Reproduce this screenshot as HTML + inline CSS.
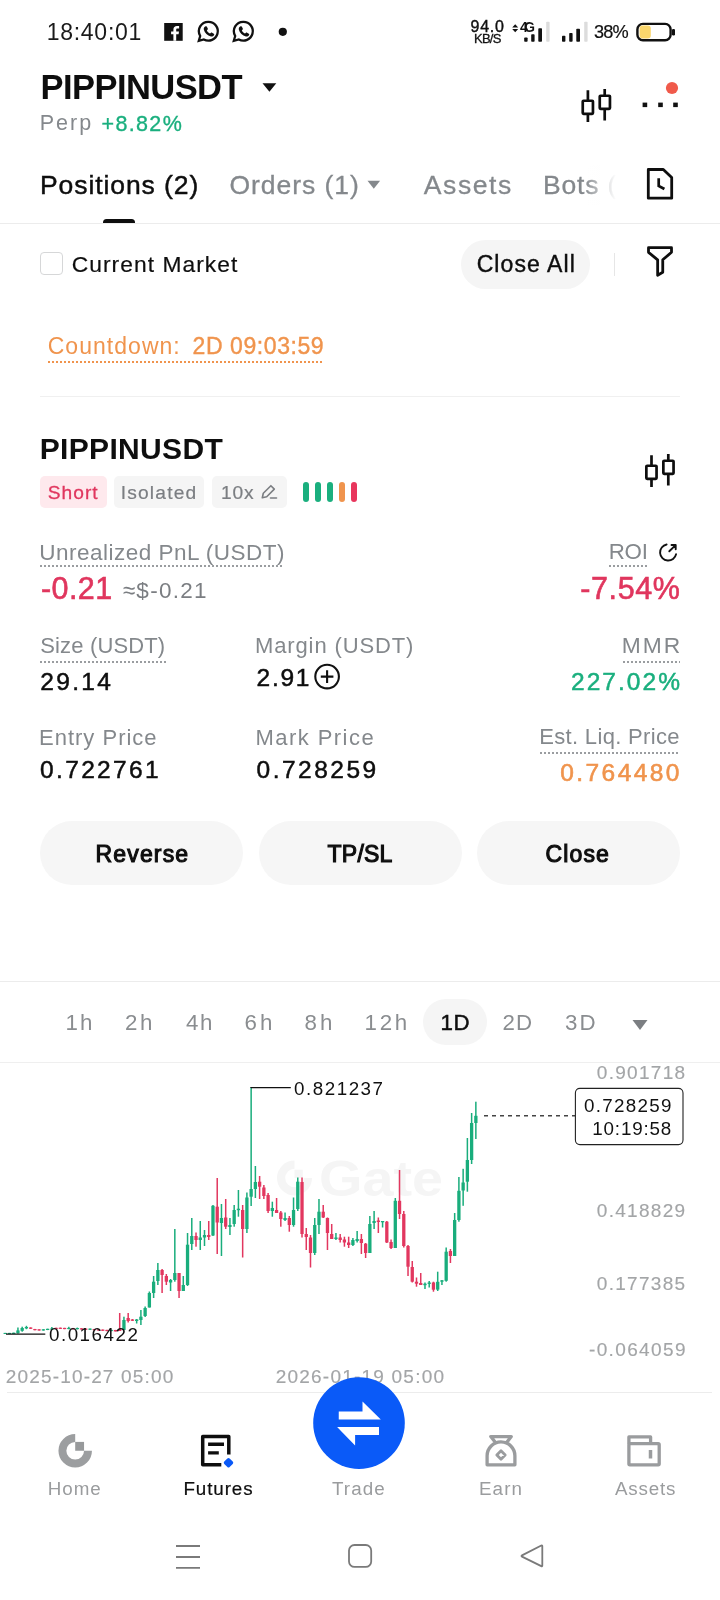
<!DOCTYPE html>
<html><head><meta charset="utf-8"><title>Positions</title>
<style>
html,body{margin:0;padding:0;background:#fff}
body{width:720px;height:1600px;position:relative;overflow:hidden;font-family:"Liberation Sans",sans-serif}
.t{position:absolute;line-height:1;white-space:pre}
.b{position:absolute}
svg{position:absolute;left:0;top:0}
</style></head><body>
<!-- backgrounds -->
<div class="b" style="left:0;top:222.5px;width:720px;height:1px;background:#ececec"></div>
<div class="b" style="left:102.5px;top:218.5px;width:32px;height:4.300px;background:#0e0e0e;border-radius:3.5px 3.5px 0 0"></div>
<div class="b" style="left:40px;top:252.300px;width:21px;height:20.400px;border:1.5px solid #d6d7d8;border-radius:4px"></div>
<div class="b" style="left:461px;top:240px;width:129px;height:48.5px;background:#f5f5f5;border-radius:25px"></div>
<div class="b" style="left:614px;top:252.5px;width:1.3px;height:23px;background:#e6e6e6"></div>
<div class="b" style="left:48px;top:361px;width:276px;height:2px;background:repeating-linear-gradient(90deg,#f0944d 0 2px,transparent 2px 4px)"></div>
<div class="b" style="left:40px;top:396px;width:640px;height:1px;background:#f0f0f0"></div>
<div class="b" style="left:40px;top:476.100px;width:66.5px;height:31.600px;background:#fee9ed;border-radius:5px"></div>
<div class="b" style="left:113.5px;top:476.100px;width:90px;height:31.600px;background:#f5f5f5;border-radius:5px"></div>
<div class="b" style="left:211.5px;top:476.100px;width:75.5px;height:31.600px;background:#f5f5f5;border-radius:5px"></div>
<div class="b" style="left:303px;top:482px;width:5.7px;height:20px;border-radius:3px;background:#1aaf7e"></div>
<div class="b" style="left:315px;top:482px;width:5.7px;height:20px;border-radius:3px;background:#1aaf7e"></div>
<div class="b" style="left:327px;top:482px;width:5.7px;height:20px;border-radius:3px;background:#1aaf7e"></div>
<div class="b" style="left:339px;top:482px;width:5.7px;height:20px;border-radius:3px;background:#f0944d"></div>
<div class="b" style="left:351px;top:482px;width:5.7px;height:20px;border-radius:3px;background:#e8365d"></div>
<!-- dotted underlines -->
<div class="b" style="left:40px;top:565px;width:244px;height:1.6px;background:repeating-linear-gradient(90deg,#9a9da0 0 2px,transparent 2px 4px)"></div>
<div class="b" style="left:609px;top:565px;width:38px;height:1.6px;background:repeating-linear-gradient(90deg,#9a9da0 0 2px,transparent 2px 4px)"></div>
<div class="b" style="left:40px;top:661px;width:126px;height:1.6px;background:repeating-linear-gradient(90deg,#9a9da0 0 2px,transparent 2px 4px)"></div>
<div class="b" style="left:623px;top:661px;width:57px;height:1.6px;background:repeating-linear-gradient(90deg,#9a9da0 0 2px,transparent 2px 4px)"></div>
<div class="b" style="left:540px;top:752.3px;width:140px;height:1.6px;background:repeating-linear-gradient(90deg,#9a9da0 0 2px,transparent 2px 4px)"></div>
<!-- buttons -->
<div class="b" style="left:40px;top:821px;width:202.5px;height:64px;background:#f6f6f6;border-radius:32px"></div>
<div class="b" style="left:258.5px;top:821px;width:203px;height:64px;background:#f6f6f6;border-radius:32px"></div>
<div class="b" style="left:476.5px;top:821px;width:203.5px;height:64px;background:#f6f6f6;border-radius:32px"></div>
<div class="b" style="left:0;top:980.5px;width:720px;height:1px;background:#ececec"></div>
<div class="b" style="left:422.5px;top:998.5px;width:64px;height:46.5px;background:#f5f5f5;border-radius:24px"></div>
<div class="b" style="left:0;top:1062px;width:720px;height:1px;background:#efefef"></div>
<div class="b" style="left:7px;top:1392px;width:705px;height:1px;background:#ececec"></div>

<svg width="720" height="1600" viewBox="0 0 720 1600">
<!-- status bar icons -->
<rect x="164.2" y="23" width="18.5" height="17.8" fill="#111"/>
<path d="M176.2 40.8v-6.6h2.4l.4-2.7h-2.8v-1.7c0-.8.3-1.3 1.4-1.3h1.5v-2.4c-.3 0-1.100-.1-2.100-.1-2.200 0-3.600 1.300-3.600 3.700v1.800h-2.300v2.700h2.300v6.600z" fill="#fff"/>
<g fill="none" stroke="#111" stroke-width="2.300">
<path d="M208.500 21.800a9.400 9.400 0 1 1-4.700 17.600l-5 1.400 1.400-4.800a9.400 9.400 0 0 1 8.300-14.200z"/>
<path d="M243.500 21.800a9.400 9.400 0 1 1-4.700 17.600l-5 1.400 1.400-4.800a9.400 9.400 0 0 1 8.300-14.200z"/>
</g>
<path id="ph" d="M205.200 26.400c.5-.4 1.200-.3 1.500.2l1 1.700c.3.500.200 1-.2 1.400l-.7.700c.7 1.400 1.800 2.500 3.200 3.200l.7-.7c.4-.4 1-.5 1.400-.2l1.700 1c.5.300.6 1 .2 1.500-.7 1-1.900 1.500-3.100 1.200-3.400-.9-6.200-3.600-7.100-7-.2-1.200.300-2.300 1.400-3z" fill="#111"/>
<path d="M240.200 26.400c.5-.4 1.200-.3 1.500.2l1 1.700c.3.500.200 1-.2 1.400l-.7.700c.7 1.400 1.800 2.500 3.200 3.200l.7-.7c.4-.4 1-.5 1.400-.2l1.700 1c.5.300.6 1 .2 1.500-.7 1-1.900 1.500-3.100 1.200-3.400-.9-6.200-3.600-7.100-7-.2-1.200.300-2.300 1.400-3z" fill="#111"/>
<circle cx="282.800" cy="31.800" r="4.100" fill="#111"/>
<!-- updown arrows -->
<path d="M512.200 27.400l3-3.100 3 3.100zM512.200 29.100l3 3.100 3-3.100z" fill="#111"/>
<!-- signal 1 -->
<rect x="524.200" y="37.500" width="3.400" height="4.300" rx=".8" fill="#111"/>
<rect x="531.200" y="34.200" width="3.400" height="7.600" rx=".8" fill="#111"/>
<rect x="538.300" y="28.200" width="3.700" height="13.600" rx=".8" fill="#111"/>
<rect x="546.200" y="21.800" width="3.400" height="20" rx=".8" fill="#dcdcdc"/>
<!-- signal 2 -->
<rect x="562" y="35.800" width="3.400" height="6" rx=".8" fill="#111"/>
<rect x="569.200" y="33" width="3.400" height="8.800" rx=".8" fill="#111"/>
<rect x="576.300" y="28.700" width="3.700" height="13.100" rx=".8" fill="#111"/>
<rect x="584.200" y="21.800" width="3.400" height="20" rx=".8" fill="#dcdcdc"/>
<!-- battery -->
<rect x="637.400" y="23.900" width="33.200" height="16.400" rx="5.500" fill="#fff" stroke="#111" stroke-width="2.400"/>
<rect x="672" y="28.900" width="3" height="6.600" rx="1.200" fill="#111"/>
<rect x="639.600" y="25.600" width="11.200" height="12.900" rx="3" fill="#fad66c"/>
<!-- header triangle -->
<path d="M262.500 83.300h13.800l-6.900 8.500z" fill="#111"/>
<!-- candle icon header -->
<g id="cicon" fill="none" stroke="#0e0e0e" stroke-width="2.700" stroke-linecap="butt">
<path d="M587.900 90.200v10.600M587.900 114.900v7.200M604.700 88.900v7M604.700 110v10.400"/>
<rect x="582.750" y="100.750" width="10.200" height="13.100" rx=".8"/>
<rect x="599.750" y="95.750" width="10.200" height="13.100" rx=".8"/>
</g>
<use href="#cicon" x="63.600" y="365"/>
<!-- more dots -->
<rect x="642.600" y="102.600" width="4.600" height="4.500" fill="#111"/>
<rect x="658.200" y="102.600" width="4.600" height="4.500" fill="#111"/>
<rect x="673.200" y="102.600" width="4.600" height="4.500" fill="#111"/>
<circle cx="672" cy="88" r="6.100" fill="#f05a4b"/>
<!-- orders triangle -->
<path d="M367.500 180.800h12.600l-6.300 8z" fill="#84888c"/>
<!-- doc-clock icon -->
<path d="M648.300 169.500h15l8.400 7.900v20.800h-23.400z" fill="none" stroke="#0e0e0e" stroke-width="2.800" stroke-linejoin="round"/>
<path d="M658.700 178.200v7.700l5.700 3.100" fill="none" stroke="#0e0e0e" stroke-width="2.700"/>
<!-- filter icon -->
<path d="M648.500 247.700h23v4.600l-8.750 7.500v12.500l-5.100 2.900v-15.400l-9.150-7.500z" fill="none" stroke="#0e0e0e" stroke-width="2.800" stroke-linejoin="round"/>
<!-- pencil -->
<g fill="none" stroke="#7b7e82" stroke-width="1.600" stroke-linejoin="round" stroke-linecap="round">
<path d="M262.300 497.700l1-4.400 7.600-7.600 3.400 3.400-7.600 7.600z"/>
<path d="M270.500 498h6"/>
</g>
<!-- ROI share icon -->
<g fill="none" stroke="#111" stroke-width="1.9" stroke-linecap="round" stroke-linejoin="round">
<path d="M666.6 544.5A8.100 8.100 0 1 0 676.1 554.100"/>
<path d="M669.300 551.300l6.300-6.200M671.500 545h4.200v4.300"/>
</g>
<!-- plus circle -->
<circle cx="327.100" cy="676.600" r="11.800" fill="none" stroke="#111" stroke-width="2.100"/>
<path d="M320.800 676.600h12.600M327.100 670.300v12.600" stroke="#111" stroke-width="2.100" fill="none"/>
<!-- tf triangle -->
<path d="M632.500 1020h15l-7.500 10z" fill="#7b7e82"/>

<!-- watermark -->
<g fill="#f5f5f5">
<path d="M294.500 1160.500a17.500 17.500 0 1 0 17.500 17.500h-8.200a9.300 9.300 0 1 1-9.300-9.300z"/>
<rect x="294.500" y="1169.700" width="8.300" height="8.300"/>
</g>
<text x="319" y="1196" font-family="Liberation Sans, sans-serif" font-weight="700" font-size="50" fill="#f5f5f5" textLength="124" lengthAdjust="spacingAndGlyphs">Gate</text>
<rect x="4.47" y="1332.9" width="1.5" height="1.1" fill="#19ad7c"/>
<rect x="3.57" y="1332.9" width="3.3" height="1.1" fill="#19ad7c"/>
<rect x="8.71" y="1332.9" width="1.5" height="1.1" fill="#19ad7c"/>
<rect x="7.81" y="1332.9" width="3.3" height="1.1" fill="#19ad7c"/>
<rect x="12.95" y="1332.7" width="1.5" height="1.3" fill="#19ad7c"/>
<rect x="12.05" y="1332.7" width="3.3" height="1.3" fill="#19ad7c"/>
<rect x="17.19" y="1327.5" width="1.5" height="6.2" fill="#19ad7c"/>
<rect x="16.29" y="1330.4" width="3.3" height="2.8" fill="#19ad7c"/>
<rect x="21.43" y="1326.7" width="1.5" height="5.0" fill="#19ad7c"/>
<rect x="20.53" y="1328.0" width="3.3" height="2.8" fill="#19ad7c"/>
<rect x="25.67" y="1325.8" width="1.5" height="3.4" fill="#19ad7c"/>
<rect x="24.77" y="1327.0" width="3.3" height="1.4" fill="#19ad7c"/>
<rect x="29.91" y="1327.4" width="1.5" height="1.5" fill="#e2375f"/>
<rect x="29.01" y="1327.5" width="3.3" height="1.3" fill="#e2375f"/>
<rect x="34.15" y="1328.9" width="1.5" height="1.4" fill="#e2375f"/>
<rect x="33.25" y="1329.0" width="3.3" height="1.2" fill="#e2375f"/>
<rect x="38.39" y="1329.2" width="1.5" height="1.4" fill="#e2375f"/>
<rect x="37.49" y="1329.3" width="3.3" height="1.2" fill="#e2375f"/>
<rect x="42.63" y="1329.2" width="1.5" height="1.4" fill="#19ad7c"/>
<rect x="41.73" y="1329.3" width="3.3" height="1.2" fill="#19ad7c"/>
<rect x="46.87" y="1328.7" width="1.5" height="1.4" fill="#19ad7c"/>
<rect x="45.97" y="1328.8" width="3.3" height="1.2" fill="#19ad7c"/>
<rect x="51.11" y="1327.0" width="1.5" height="2.7" fill="#19ad7c"/>
<rect x="50.21" y="1328.5" width="3.3" height="1.1" fill="#19ad7c"/>
<rect x="55.35" y="1327.7" width="1.5" height="1.4" fill="#e2375f"/>
<rect x="54.45" y="1327.8" width="3.3" height="1.2" fill="#e2375f"/>
<rect x="59.59" y="1327.6" width="1.5" height="1.4" fill="#e2375f"/>
<rect x="58.69" y="1327.7" width="3.3" height="1.2" fill="#e2375f"/>
<rect x="63.83" y="1327.8" width="1.5" height="1.4" fill="#e2375f"/>
<rect x="62.93" y="1327.9" width="3.3" height="1.2" fill="#e2375f"/>
<rect x="68.07" y="1326.8" width="1.5" height="2.4" fill="#19ad7c"/>
<rect x="67.17" y="1327.9" width="3.3" height="1.2" fill="#19ad7c"/>
<rect x="72.31" y="1327.9" width="1.5" height="1.4" fill="#e2375f"/>
<rect x="71.41" y="1328.0" width="3.3" height="1.2" fill="#e2375f"/>
<rect x="76.55" y="1327.6" width="1.5" height="1.8" fill="#19ad7c"/>
<rect x="75.65" y="1328.0" width="3.3" height="1.2" fill="#19ad7c"/>
<rect x="80.79" y="1328.2" width="1.5" height="1.4" fill="#e2375f"/>
<rect x="79.89" y="1328.3" width="3.3" height="1.2" fill="#e2375f"/>
<rect x="85.03" y="1328.5" width="1.5" height="1.4" fill="#e2375f"/>
<rect x="84.13" y="1328.6" width="3.3" height="1.2" fill="#e2375f"/>
<rect x="89.27" y="1328.5" width="1.5" height="1.4" fill="#19ad7c"/>
<rect x="88.37" y="1328.6" width="3.3" height="1.2" fill="#19ad7c"/>
<rect x="93.51" y="1328.9" width="1.5" height="1.4" fill="#e2375f"/>
<rect x="92.61" y="1329.0" width="3.3" height="1.2" fill="#e2375f"/>
<rect x="97.75" y="1329.2" width="1.5" height="1.4" fill="#e2375f"/>
<rect x="96.85" y="1329.3" width="3.3" height="1.2" fill="#e2375f"/>
<rect x="101.99" y="1329.5" width="1.5" height="1.4" fill="#e2375f"/>
<rect x="101.09" y="1329.6" width="3.3" height="1.2" fill="#e2375f"/>
<rect x="106.23" y="1329.8" width="1.5" height="1.4" fill="#e2375f"/>
<rect x="105.33" y="1329.9" width="3.3" height="1.2" fill="#e2375f"/>
<rect x="110.47" y="1329.7" width="1.5" height="1.5" fill="#19ad7c"/>
<rect x="109.57" y="1329.9" width="3.3" height="1.2" fill="#19ad7c"/>
<rect x="114.71" y="1329.9" width="1.5" height="1.6" fill="#e2375f"/>
<rect x="113.81" y="1330.0" width="3.3" height="1.4" fill="#e2375f"/>
<rect x="118.95" y="1313.0" width="1.5" height="18.0" fill="#e2375f"/>
<rect x="118.05" y="1329.0" width="3.3" height="2.0" fill="#e2375f"/>
<rect x="123.19" y="1316.7" width="1.5" height="13.3" fill="#19ad7c"/>
<rect x="122.29" y="1320.0" width="3.3" height="10.0" fill="#19ad7c"/>
<rect x="127.43" y="1313.0" width="1.5" height="9.5" fill="#e2375f"/>
<rect x="126.53" y="1318.0" width="3.3" height="3.0" fill="#e2375f"/>
<rect x="131.67" y="1319.0" width="1.5" height="2.0" fill="#e2375f"/>
<rect x="130.77" y="1319.5" width="3.3" height="1.3" fill="#e2375f"/>
<rect x="135.91" y="1319.0" width="1.5" height="4.5" fill="#19ad7c"/>
<rect x="135.01" y="1319.5" width="3.3" height="1.5" fill="#19ad7c"/>
<rect x="140.15" y="1310.0" width="1.5" height="15.0" fill="#19ad7c"/>
<rect x="139.25" y="1316.7" width="3.3" height="3.3" fill="#19ad7c"/>
<rect x="144.39" y="1306.5" width="1.5" height="10.5" fill="#19ad7c"/>
<rect x="143.49" y="1308.0" width="3.3" height="8.0" fill="#19ad7c"/>
<rect x="148.63" y="1291.5" width="1.5" height="16.0" fill="#19ad7c"/>
<rect x="147.73" y="1293.0" width="3.3" height="14.5" fill="#19ad7c"/>
<rect x="152.87" y="1276.0" width="1.5" height="22.0" fill="#19ad7c"/>
<rect x="151.97" y="1281.7" width="3.3" height="11.3" fill="#19ad7c"/>
<rect x="157.11" y="1263.0" width="1.5" height="22.0" fill="#19ad7c"/>
<rect x="156.21" y="1270.0" width="3.3" height="11.0" fill="#19ad7c"/>
<rect x="161.35" y="1269.0" width="1.5" height="24.0" fill="#e2375f"/>
<rect x="160.45" y="1270.0" width="3.3" height="5.0" fill="#e2375f"/>
<rect x="165.59" y="1274.0" width="1.5" height="11.0" fill="#e2375f"/>
<rect x="164.69" y="1276.0" width="3.3" height="5.7" fill="#e2375f"/>
<rect x="169.83" y="1279.0" width="1.5" height="12.0" fill="#19ad7c"/>
<rect x="168.93" y="1280.0" width="3.3" height="2.5" fill="#19ad7c"/>
<rect x="174.07" y="1229.0" width="1.5" height="52.7" fill="#19ad7c"/>
<rect x="173.17" y="1273.0" width="3.3" height="7.0" fill="#19ad7c"/>
<rect x="178.31" y="1273.0" width="1.5" height="25.0" fill="#e2375f"/>
<rect x="177.41" y="1273.0" width="3.3" height="18.0" fill="#e2375f"/>
<rect x="182.55" y="1276.0" width="1.5" height="15.0" fill="#19ad7c"/>
<rect x="181.65" y="1285.0" width="3.3" height="6.0" fill="#19ad7c"/>
<rect x="186.79" y="1233.0" width="1.5" height="53.0" fill="#19ad7c"/>
<rect x="185.89" y="1244.7" width="3.3" height="40.3" fill="#19ad7c"/>
<rect x="191.03" y="1218.0" width="1.5" height="32.0" fill="#19ad7c"/>
<rect x="190.13" y="1236.0" width="3.3" height="8.0" fill="#19ad7c"/>
<rect x="195.27" y="1232.5" width="1.5" height="14.2" fill="#e2375f"/>
<rect x="194.37" y="1236.0" width="3.3" height="4.0" fill="#e2375f"/>
<rect x="199.51" y="1221.0" width="1.5" height="29.0" fill="#19ad7c"/>
<rect x="198.61" y="1237.5" width="3.3" height="2.5" fill="#19ad7c"/>
<rect x="203.75" y="1230.0" width="1.5" height="16.0" fill="#19ad7c"/>
<rect x="202.85" y="1235.0" width="3.3" height="2.5" fill="#19ad7c"/>
<rect x="207.99" y="1221.0" width="1.5" height="19.0" fill="#e2375f"/>
<rect x="207.09" y="1235.0" width="3.3" height="2.0" fill="#e2375f"/>
<rect x="212.23" y="1205.0" width="1.5" height="31.0" fill="#19ad7c"/>
<rect x="211.33" y="1205.8" width="3.3" height="29.7" fill="#19ad7c"/>
<rect x="216.47" y="1178.0" width="1.5" height="76.0" fill="#e2375f"/>
<rect x="215.57" y="1206.7" width="3.3" height="15.8" fill="#e2375f"/>
<rect x="220.71" y="1204.0" width="1.5" height="52.0" fill="#19ad7c"/>
<rect x="219.81" y="1218.0" width="3.3" height="5.0" fill="#19ad7c"/>
<rect x="224.95" y="1199.0" width="1.5" height="30.0" fill="#e2375f"/>
<rect x="224.05" y="1217.5" width="3.3" height="9.2" fill="#e2375f"/>
<rect x="229.19" y="1218.0" width="1.5" height="17.0" fill="#19ad7c"/>
<rect x="228.29" y="1225.0" width="3.3" height="2.0" fill="#19ad7c"/>
<rect x="233.43" y="1205.0" width="1.5" height="21.7" fill="#19ad7c"/>
<rect x="232.53" y="1210.0" width="3.3" height="14.0" fill="#19ad7c"/>
<rect x="237.67" y="1190.0" width="1.5" height="26.7" fill="#19ad7c"/>
<rect x="236.77" y="1208.7" width="3.3" height="1.5" fill="#19ad7c"/>
<rect x="241.91" y="1205.0" width="1.5" height="52.5" fill="#e2375f"/>
<rect x="241.01" y="1210.0" width="3.3" height="19.0" fill="#e2375f"/>
<rect x="246.15" y="1192.5" width="1.5" height="40.5" fill="#19ad7c"/>
<rect x="245.25" y="1197.5" width="3.3" height="31.5" fill="#19ad7c"/>
<rect x="250.39" y="1087.5" width="1.5" height="118.5" fill="#19ad7c"/>
<rect x="249.49" y="1189.0" width="3.3" height="7.7" fill="#19ad7c"/>
<rect x="254.63" y="1166.0" width="1.5" height="32.0" fill="#19ad7c"/>
<rect x="253.73" y="1182.0" width="3.3" height="7.0" fill="#19ad7c"/>
<rect x="258.87" y="1176.0" width="1.5" height="23.0" fill="#e2375f"/>
<rect x="257.97" y="1181.7" width="3.3" height="5.0" fill="#e2375f"/>
<rect x="263.11" y="1185.0" width="1.5" height="14.0" fill="#e2375f"/>
<rect x="262.21" y="1187.5" width="3.3" height="8.5" fill="#e2375f"/>
<rect x="267.35" y="1193.0" width="1.5" height="20.0" fill="#e2375f"/>
<rect x="266.45" y="1195.0" width="3.3" height="16.0" fill="#e2375f"/>
<rect x="271.59" y="1201.7" width="1.5" height="15.0" fill="#19ad7c"/>
<rect x="270.69" y="1208.0" width="3.3" height="3.0" fill="#19ad7c"/>
<rect x="275.83" y="1198.0" width="1.5" height="15.0" fill="#e2375f"/>
<rect x="274.93" y="1210.0" width="3.3" height="3.0" fill="#e2375f"/>
<rect x="280.07" y="1211.0" width="1.5" height="15.7" fill="#e2375f"/>
<rect x="279.17" y="1212.5" width="3.3" height="6.5" fill="#e2375f"/>
<rect x="284.31" y="1212.5" width="1.5" height="8.5" fill="#19ad7c"/>
<rect x="283.41" y="1218.0" width="3.3" height="2.0" fill="#19ad7c"/>
<rect x="288.55" y="1216.0" width="1.5" height="15.7" fill="#e2375f"/>
<rect x="287.65" y="1218.0" width="3.3" height="7.0" fill="#e2375f"/>
<rect x="292.79" y="1197.5" width="1.5" height="29.2" fill="#19ad7c"/>
<rect x="291.89" y="1210.0" width="3.3" height="15.0" fill="#19ad7c"/>
<rect x="297.03" y="1177.5" width="1.5" height="33.5" fill="#19ad7c"/>
<rect x="296.13" y="1181.7" width="3.3" height="27.3" fill="#19ad7c"/>
<rect x="301.27" y="1177.5" width="1.5" height="60.0" fill="#e2375f"/>
<rect x="300.37" y="1182.0" width="3.3" height="52.0" fill="#e2375f"/>
<rect x="305.51" y="1228.0" width="1.5" height="22.0" fill="#e2375f"/>
<rect x="304.61" y="1234.0" width="3.3" height="3.0" fill="#e2375f"/>
<rect x="309.75" y="1235.0" width="1.5" height="32.5" fill="#e2375f"/>
<rect x="308.85" y="1237.5" width="3.3" height="15.5" fill="#e2375f"/>
<rect x="313.99" y="1218.0" width="1.5" height="37.0" fill="#19ad7c"/>
<rect x="313.09" y="1225.0" width="3.3" height="28.0" fill="#19ad7c"/>
<rect x="318.23" y="1199.0" width="1.5" height="35.0" fill="#19ad7c"/>
<rect x="317.33" y="1211.7" width="3.3" height="13.3" fill="#19ad7c"/>
<rect x="322.47" y="1205.0" width="1.5" height="13.0" fill="#e2375f"/>
<rect x="321.57" y="1211.7" width="3.3" height="5.8" fill="#e2375f"/>
<rect x="326.71" y="1217.5" width="1.5" height="32.5" fill="#e2375f"/>
<rect x="325.81" y="1218.0" width="3.3" height="15.0" fill="#e2375f"/>
<rect x="330.95" y="1224.0" width="1.5" height="15.0" fill="#e2375f"/>
<rect x="330.05" y="1234.0" width="3.3" height="5.0" fill="#e2375f"/>
<rect x="335.19" y="1233.0" width="1.5" height="7.0" fill="#19ad7c"/>
<rect x="334.29" y="1237.5" width="3.3" height="1.5" fill="#19ad7c"/>
<rect x="339.43" y="1234.0" width="1.5" height="8.5" fill="#e2375f"/>
<rect x="338.53" y="1237.5" width="3.3" height="2.5" fill="#e2375f"/>
<rect x="343.67" y="1236.7" width="1.5" height="10.0" fill="#e2375f"/>
<rect x="342.77" y="1239.5" width="3.3" height="3.0" fill="#e2375f"/>
<rect x="347.91" y="1236.7" width="1.5" height="11.3" fill="#e2375f"/>
<rect x="347.01" y="1242.5" width="3.3" height="2.5" fill="#e2375f"/>
<rect x="352.15" y="1238.0" width="1.5" height="8.0" fill="#19ad7c"/>
<rect x="351.25" y="1240.0" width="3.3" height="5.0" fill="#19ad7c"/>
<rect x="356.39" y="1231.0" width="1.5" height="11.5" fill="#19ad7c"/>
<rect x="355.49" y="1239.0" width="3.3" height="2.0" fill="#19ad7c"/>
<rect x="360.63" y="1234.0" width="1.5" height="20.0" fill="#e2375f"/>
<rect x="359.73" y="1239.0" width="3.3" height="4.0" fill="#e2375f"/>
<rect x="364.87" y="1243.0" width="1.5" height="15.0" fill="#e2375f"/>
<rect x="363.97" y="1243.7" width="3.3" height="9.3" fill="#e2375f"/>
<rect x="369.11" y="1216.0" width="1.5" height="37.0" fill="#19ad7c"/>
<rect x="368.21" y="1224.0" width="3.3" height="29.0" fill="#19ad7c"/>
<rect x="373.35" y="1211.0" width="1.5" height="18.0" fill="#19ad7c"/>
<rect x="372.45" y="1221.0" width="3.3" height="2.0" fill="#19ad7c"/>
<rect x="377.59" y="1217.5" width="1.5" height="15.5" fill="#e2375f"/>
<rect x="376.69" y="1220.5" width="3.3" height="1.5" fill="#e2375f"/>
<rect x="381.83" y="1221.0" width="1.5" height="6.5" fill="#19ad7c"/>
<rect x="380.93" y="1221.0" width="3.3" height="1.3" fill="#19ad7c"/>
<rect x="386.07" y="1221.0" width="1.5" height="22.0" fill="#e2375f"/>
<rect x="385.17" y="1221.7" width="3.3" height="20.8" fill="#e2375f"/>
<rect x="390.31" y="1239.5" width="1.5" height="9.5" fill="#e2375f"/>
<rect x="389.41" y="1242.0" width="3.3" height="6.0" fill="#e2375f"/>
<rect x="394.55" y="1198.0" width="1.5" height="50.0" fill="#19ad7c"/>
<rect x="393.65" y="1200.8" width="3.3" height="47.2" fill="#19ad7c"/>
<rect x="398.79" y="1170.0" width="1.5" height="49.0" fill="#e2375f"/>
<rect x="397.89" y="1200.8" width="3.3" height="13.2" fill="#e2375f"/>
<rect x="403.03" y="1211.0" width="1.5" height="36.5" fill="#e2375f"/>
<rect x="402.13" y="1214.0" width="3.3" height="32.0" fill="#e2375f"/>
<rect x="407.27" y="1245.0" width="1.5" height="31.0" fill="#e2375f"/>
<rect x="406.37" y="1246.0" width="3.3" height="20.7" fill="#e2375f"/>
<rect x="411.51" y="1261.0" width="1.5" height="21.5" fill="#e2375f"/>
<rect x="410.61" y="1267.0" width="3.3" height="14.7" fill="#e2375f"/>
<rect x="415.75" y="1277.5" width="1.5" height="9.2" fill="#e2375f"/>
<rect x="414.85" y="1281.7" width="3.3" height="2.0" fill="#e2375f"/>
<rect x="419.99" y="1273.0" width="1.5" height="12.0" fill="#e2375f"/>
<rect x="419.09" y="1283.0" width="3.3" height="2.0" fill="#e2375f"/>
<rect x="424.23" y="1282.5" width="1.5" height="6.5" fill="#19ad7c"/>
<rect x="423.33" y="1283.7" width="3.3" height="1.5" fill="#19ad7c"/>
<rect x="428.47" y="1281.0" width="1.5" height="6.5" fill="#19ad7c"/>
<rect x="427.57" y="1282.5" width="3.3" height="1.4" fill="#19ad7c"/>
<rect x="432.71" y="1281.7" width="1.5" height="10.0" fill="#e2375f"/>
<rect x="431.81" y="1282.5" width="3.3" height="7.2" fill="#e2375f"/>
<rect x="436.95" y="1271.7" width="1.5" height="19.3" fill="#19ad7c"/>
<rect x="436.05" y="1281.8" width="3.3" height="7.8" fill="#19ad7c"/>
<rect x="441.19" y="1280.0" width="1.5" height="5.0" fill="#19ad7c"/>
<rect x="440.29" y="1280.3" width="3.3" height="1.4" fill="#19ad7c"/>
<rect x="445.43" y="1247.5" width="1.5" height="34.2" fill="#19ad7c"/>
<rect x="444.53" y="1251.7" width="3.3" height="29.1" fill="#19ad7c"/>
<rect x="449.67" y="1249.0" width="1.5" height="14.0" fill="#e2375f"/>
<rect x="448.77" y="1251.0" width="3.3" height="5.0" fill="#e2375f"/>
<rect x="453.91" y="1213.0" width="1.5" height="43.0" fill="#19ad7c"/>
<rect x="453.01" y="1220.0" width="3.3" height="36.0" fill="#19ad7c"/>
<rect x="458.15" y="1177.0" width="1.5" height="44.7" fill="#19ad7c"/>
<rect x="457.25" y="1190.8" width="3.3" height="29.2" fill="#19ad7c"/>
<rect x="462.39" y="1168.8" width="1.5" height="37.0" fill="#19ad7c"/>
<rect x="461.49" y="1182.5" width="3.3" height="8.0" fill="#19ad7c"/>
<rect x="466.63" y="1138.0" width="1.5" height="53.7" fill="#19ad7c"/>
<rect x="465.73" y="1160.0" width="3.3" height="21.7" fill="#19ad7c"/>
<rect x="470.87" y="1113.0" width="1.5" height="51.0" fill="#19ad7c"/>
<rect x="469.97" y="1123.0" width="3.3" height="37.0" fill="#19ad7c"/>
<rect x="475.11" y="1101.7" width="1.5" height="37.3" fill="#19ad7c"/>
<rect x="474.21" y="1115.8" width="3.3" height="7.2" fill="#19ad7c"/>
<!-- chart leaders -->
<path d="M251 1088v-.4h39.800" stroke="#111" stroke-width="1.300" fill="none"/>
<path d="M6 1334.200h39.300" stroke="#111" stroke-width="1.300" fill="none"/>
<path d="M484 1115.700h91" stroke="#444" stroke-width="1.400" stroke-dasharray="4 4" fill="none"/>

<rect x="575.400" y="1088.400" width="107.600" height="56.200" rx="4.500" fill="#fff" stroke="#222" stroke-width="1.100"/>

<!-- nav: home -->
<path d="M75.200 1434a16.750 16.750 0 1 0 16.750 16.750h-7.900a8.850 8.850 0 1 1-8.850-8.850z" fill="#9c9ea0"/>
<rect x="75.200" y="1441.900" width="8.850" height="8.850" fill="#97999b"/>
<!-- futures -->
<path d="M228.800 1454.400v-17.900h-26.100v28.200h18.600" fill="none" stroke="#0e0e0e" stroke-width="3.500" stroke-linejoin="round"/>
<path d="M208.100 1444.200h15.900M208.100 1452.900h10.700" stroke="#0e0e0e" stroke-width="3.400" fill="none"/>
<rect x="224.700" y="1458.950" width="7.600" height="7.600" rx="1.600" transform="rotate(45 228.500 1462.750)" fill="#0a59f7"/>
<!-- earn -->
<g fill="none" stroke="#9a9c9e" stroke-width="3.300" stroke-linejoin="round">
<path d="M487.100 1464.800v-9a13.900 13.900 0 0 1 27.800 0v9z"/>
<path d="M495.500 1442.600l-4.700-6h20.500l-4.700 6"/>
<path d="M501 1450.800l4.200 4.200-4.200 4.200-4.200-4.200z" stroke-width="2.800"/>
</g>
<!-- assets -->
<g fill="none" stroke="#9a9c9e" stroke-width="3.300" stroke-linejoin="round">
<path d="M628.900 1443.700v-6.800h21.700v6.800"/>
<rect x="628.900" y="1443.700" width="30.300" height="21.100" rx="1"/>
<path d="M650.500 1450v8.500" stroke-width="3.500"/>
</g>
<!-- system nav -->
<g stroke="#7a7a7a" stroke-width="1.900" fill="none">
<path d="M176 1546h24M176 1557h24M176 1567.900h24"/>
<rect x="349" y="1545" width="22.200" height="21.900" rx="5.500" stroke-width="1.800"/>
<path d="M541.300 1545.500c.6-.3 1-.1 1 .6v19.400c0 .7-.4.900-1 .6l-19.300-9.500c-.7-.4-.7-.8 0-1.200z" stroke-width="1.800" stroke-linejoin="round"/>
</g>
</svg>
<div style="position:absolute;left:0;top:0;width:720px;height:1600px;will-change:transform"><div class="t" style="left:46.75px;top:21.00px;font-size:23px;font-weight:400;color:#1a1a1a;letter-spacing:0.714px;">18:40:01</div>
<div class="t" style="left:470.50px;top:19.00px;font-size:16px;font-weight:400;color:#111;letter-spacing:0.750px;-webkit-text-stroke:0.4px #111;">94.0</div>
<div class="t" style="left:474.00px;top:32.00px;font-size:13px;font-weight:400;color:#111;letter-spacing:-0.750px;-webkit-text-stroke:0.3px #111;">KB/S</div>
<div class="t" style="left:520.00px;top:21.00px;font-size:13.8px;font-weight:700;color:#111;letter-spacing:-3.500px;">4G</div>
<div class="t" style="left:594.00px;top:23.00px;font-size:18.2px;font-weight:400;color:#111;letter-spacing:-0.875px;-webkit-text-stroke:0.2px #111;">38%</div>
<div class="t" style="left:40.50px;top:70.00px;font-size:34.5px;font-weight:700;color:#0e0e0e;letter-spacing:-0.556px;">PIPPINUSDT</div>
<div class="t" style="left:39.75px;top:113.00px;font-size:21.5px;font-weight:400;color:#84888c;letter-spacing:2.000px;">Perp</div>
<div class="t" style="left:101.50px;top:114.00px;font-size:21.5px;font-weight:400;color:#1aaf7e;letter-spacing:1.350px;-webkit-text-stroke:0.35px #1aaf7e;">+8.82%</div>
<div class="t" style="left:40.00px;top:172.00px;font-size:26.5px;font-weight:400;color:#0e0e0e;letter-spacing:0.917px;-webkit-text-stroke:0.45px #0e0e0e;">Positions (2)</div>
<div class="t" style="left:229.50px;top:172.00px;font-size:26.5px;font-weight:400;color:#84888c;letter-spacing:0.944px;-webkit-text-stroke:0.3px #84888c;">Orders (1)</div>
<div class="t" style="left:423.75px;top:172.00px;font-size:26.5px;font-weight:400;color:#84888c;letter-spacing:1.600px;-webkit-text-stroke:0.3px #84888c;">Assets</div>
<div class="t" style="left:543.00px;top:172.00px;font-size:26.5px;font-weight:400;color:#84888c;letter-spacing:0.800px;-webkit-text-stroke:0.3px #84888c;">Bots (</div>
<div class="t" style="left:71.70px;top:253.00px;font-size:22.8px;font-weight:400;color:#0e0e0e;letter-spacing:1.046px;-webkit-text-stroke:0.2px #0e0e0e;">Current Market</div>
<div class="t" style="left:476.70px;top:253.00px;font-size:23px;font-weight:400;color:#0e0e0e;letter-spacing:1.075px;-webkit-text-stroke:0.4px #0e0e0e;">Close All</div>
<div class="t" style="left:47.70px;top:335.00px;font-size:23px;font-weight:400;color:#f0944d;letter-spacing:1.033px;">Countdown:</div>
<div class="t" style="left:192.60px;top:335.00px;font-size:23px;font-weight:400;color:#f0944d;letter-spacing:0.570px;-webkit-text-stroke:0.4px #f0944d;">2D 09:03:59</div>
<div class="t" style="left:39.70px;top:434.00px;font-size:30px;font-weight:700;color:#0e0e0e;letter-spacing:0.333px;">PIPPINUSDT</div>
<div class="t" style="left:47.80px;top:483.00px;font-size:19.2px;font-weight:400;color:#e0365e;letter-spacing:1.000px;-webkit-text-stroke:0.3px #e0365e;">Short</div>
<div class="t" style="left:120.70px;top:483.00px;font-size:19.2px;font-weight:400;color:#7b7e82;letter-spacing:1.186px;-webkit-text-stroke:0.2px #7b7e82;">Isolated</div>
<div class="t" style="left:221.00px;top:483.00px;font-size:19.2px;font-weight:400;color:#7b7e82;letter-spacing:0.875px;-webkit-text-stroke:0.2px #7b7e82;">10x</div>
<div class="t" style="left:39.20px;top:542.00px;font-size:22.5px;font-weight:400;color:#84888c;letter-spacing:0.490px;">Unrealized PnL (USDT)</div>
<div class="t" style="left:608.75px;top:541.00px;font-size:22.3px;font-weight:400;color:#84888c;letter-spacing:-0.250px;">ROI</div>
<div class="t" style="left:41.00px;top:573.00px;font-size:30.5px;font-weight:400;color:#e0365e;letter-spacing:0.425px;-webkit-text-stroke:0.6px #e0365e;">-0.21</div>
<div class="t" style="left:122.70px;top:580.00px;font-size:22.5px;font-weight:400;color:#7b7e82;letter-spacing:1.300px;">≈$-0.21</div>
<div class="t" style="left:580.25px;top:573.00px;font-size:30.5px;font-weight:400;color:#e0365e;letter-spacing:0.600px;-webkit-text-stroke:0.6px #e0365e;">-7.54%</div>
<div class="t" style="left:40.25px;top:635.00px;font-size:22px;font-weight:400;color:#84888c;letter-spacing:0.150px;">Size (USDT)</div>
<div class="t" style="left:255.00px;top:635.00px;font-size:22px;font-weight:400;color:#84888c;letter-spacing:0.875px;">Margin (USDT)</div>
<div class="t" style="left:621.75px;top:634.00px;font-size:22.8px;font-weight:400;color:#84888c;letter-spacing:2.000px;">MMR</div>
<div class="t" style="left:40.25px;top:670.00px;font-size:24.5px;font-weight:400;color:#0e0e0e;letter-spacing:2.312px;-webkit-text-stroke:0.5px #0e0e0e;">29.14</div>
<div class="t" style="left:256.50px;top:666.00px;font-size:24.5px;font-weight:400;color:#0e0e0e;letter-spacing:1.750px;-webkit-text-stroke:0.5px #0e0e0e;">2.91</div>
<div class="t" style="left:571.00px;top:670.00px;font-size:24.5px;font-weight:400;color:#1aaf7e;letter-spacing:2.042px;-webkit-text-stroke:0.5px #1aaf7e;">227.02%</div>
<div class="t" style="left:39.00px;top:727.00px;font-size:22px;font-weight:400;color:#84888c;letter-spacing:1.000px;">Entry Price</div>
<div class="t" style="left:255.50px;top:727.00px;font-size:22px;font-weight:400;color:#84888c;letter-spacing:1.444px;">Mark Price</div>
<div class="t" style="left:539.25px;top:726.00px;font-size:22px;font-weight:400;color:#84888c;letter-spacing:0.321px;">Est. Liq. Price</div>
<div class="t" style="left:40.00px;top:758.00px;font-size:24.5px;font-weight:400;color:#0e0e0e;letter-spacing:2.357px;-webkit-text-stroke:0.5px #0e0e0e;">0.722761</div>
<div class="t" style="left:256.50px;top:758.00px;font-size:24.5px;font-weight:400;color:#0e0e0e;letter-spacing:2.500px;-webkit-text-stroke:0.5px #0e0e0e;">0.728259</div>
<div class="t" style="left:560.25px;top:761.00px;font-size:24.5px;font-weight:400;color:#f0944d;letter-spacing:2.429px;-webkit-text-stroke:0.6px #f0944d;">0.764480</div>
<div class="t" style="left:95.50px;top:843.00px;font-size:23px;font-weight:400;color:#0e0e0e;letter-spacing:1.167px;-webkit-text-stroke:1.1px #0e0e0e;">Reverse</div>
<div class="t" style="left:327.50px;top:843.00px;font-size:23px;font-weight:400;color:#0e0e0e;letter-spacing:0.250px;-webkit-text-stroke:1.1px #0e0e0e;">TP/SL</div>
<div class="t" style="left:545.50px;top:843.00px;font-size:23px;font-weight:400;color:#0e0e0e;letter-spacing:1.125px;-webkit-text-stroke:1.1px #0e0e0e;">Close</div>
<div class="t" style="left:65.50px;top:1012.00px;font-size:22.3px;font-weight:400;color:#8a8d90;letter-spacing:2.000px;">1h</div>
<div class="t" style="left:125.00px;top:1012.00px;font-size:22.3px;font-weight:400;color:#8a8d90;letter-spacing:2.500px;">2h</div>
<div class="t" style="left:186.00px;top:1012.00px;font-size:22.3px;font-weight:400;color:#8a8d90;letter-spacing:1.500px;">4h</div>
<div class="t" style="left:244.50px;top:1012.00px;font-size:22.3px;font-weight:400;color:#8a8d90;letter-spacing:3.000px;">6h</div>
<div class="t" style="left:304.50px;top:1012.00px;font-size:22.3px;font-weight:400;color:#8a8d90;letter-spacing:3.000px;">8h</div>
<div class="t" style="left:364.50px;top:1012.00px;font-size:22.3px;font-weight:400;color:#8a8d90;letter-spacing:2.750px;">12h</div>
<div class="t" style="left:440.50px;top:1012.00px;font-size:22.3px;font-weight:400;color:#0e0e0e;letter-spacing:0.500px;-webkit-text-stroke:0.5px #0e0e0e;">1D</div>
<div class="t" style="left:502.50px;top:1012.00px;font-size:22.3px;font-weight:400;color:#8a8d90;letter-spacing:1.000px;">2D</div>
<div class="t" style="left:565.00px;top:1012.00px;font-size:22.3px;font-weight:400;color:#8a8d90;letter-spacing:2.000px;">3D</div>
<div class="t" style="left:596.80px;top:1063.00px;font-size:19px;font-weight:400;color:#a3a5a7;letter-spacing:1.300px;-webkit-text-stroke:0.15px #a3a5a7;">0.901718</div>
<div class="t" style="left:596.80px;top:1201.00px;font-size:19px;font-weight:400;color:#a3a5a7;letter-spacing:1.300px;-webkit-text-stroke:0.15px #a3a5a7;">0.418829</div>
<div class="t" style="left:596.80px;top:1274.00px;font-size:19px;font-weight:400;color:#a3a5a7;letter-spacing:1.300px;-webkit-text-stroke:0.15px #a3a5a7;">0.177385</div>
<div class="t" style="left:589.00px;top:1340.00px;font-size:19px;font-weight:400;color:#a3a5a7;letter-spacing:1.362px;-webkit-text-stroke:0.15px #a3a5a7;">-0.064059</div>
<div class="t" style="left:583.90px;top:1097.00px;font-size:18.8px;font-weight:400;color:#111;letter-spacing:1.314px;">0.728259</div>
<div class="t" style="left:592.30px;top:1120.00px;font-size:18.8px;font-weight:400;color:#111;letter-spacing:0.829px;">10:19:58</div>
<div class="t" style="left:294.00px;top:1080.00px;font-size:18.8px;font-weight:400;color:#111;letter-spacing:1.529px;">0.821237</div>
<div class="t" style="left:49.00px;top:1326.00px;font-size:18.8px;font-weight:400;color:#111;letter-spacing:1.500px;">0.016422</div>
<div class="t" style="left:5.70px;top:1367.00px;font-size:19px;font-weight:400;color:#a3a5a7;letter-spacing:1.173px;-webkit-text-stroke:0.15px #a3a5a7;">2025-10-27 05:00</div>
<div class="t" style="left:275.70px;top:1367.00px;font-size:19px;font-weight:400;color:#a3a5a7;letter-spacing:1.220px;-webkit-text-stroke:0.15px #a3a5a7;">2026-01-19 05:00</div>
<div class="t" style="left:47.75px;top:1480.00px;font-size:18.8px;font-weight:400;color:#9a9c9e;letter-spacing:0.950px;">Home</div>
<div class="t" style="left:183.40px;top:1480.00px;font-size:18.8px;font-weight:400;color:#0e0e0e;letter-spacing:0.917px;-webkit-text-stroke:0.2px #0e0e0e;">Futures</div>
<div class="t" style="left:331.90px;top:1480.00px;font-size:18.8px;font-weight:400;color:#9a9c9e;letter-spacing:1.125px;">Trade</div>
<div class="t" style="left:479.00px;top:1480.00px;font-size:18.8px;font-weight:400;color:#9a9c9e;letter-spacing:1.083px;">Earn</div>
<div class="t" style="left:615.00px;top:1480.00px;font-size:18.8px;font-weight:400;color:#9a9c9e;letter-spacing:0.800px;">Assets</div></div>
<svg width="720" height="1600" viewBox="0 0 720 1600" style="pointer-events:none">
<circle cx="359" cy="1423.100" r="45.800" fill="#0a5af8"/>
<path d="M338.750 1411.400h23.750v-10l18.300 18h-42.050z" fill="#fff"/>
<path d="M337.100 1427.100h41.900v7.900h-23.900v10.600z" fill="#fff"/>
</svg>
<div class="b" style="left:584px;top:165px;width:40px;height:40px;background:linear-gradient(90deg,rgba(255,255,255,0),#fff 80%)"></div>

</body></html>
